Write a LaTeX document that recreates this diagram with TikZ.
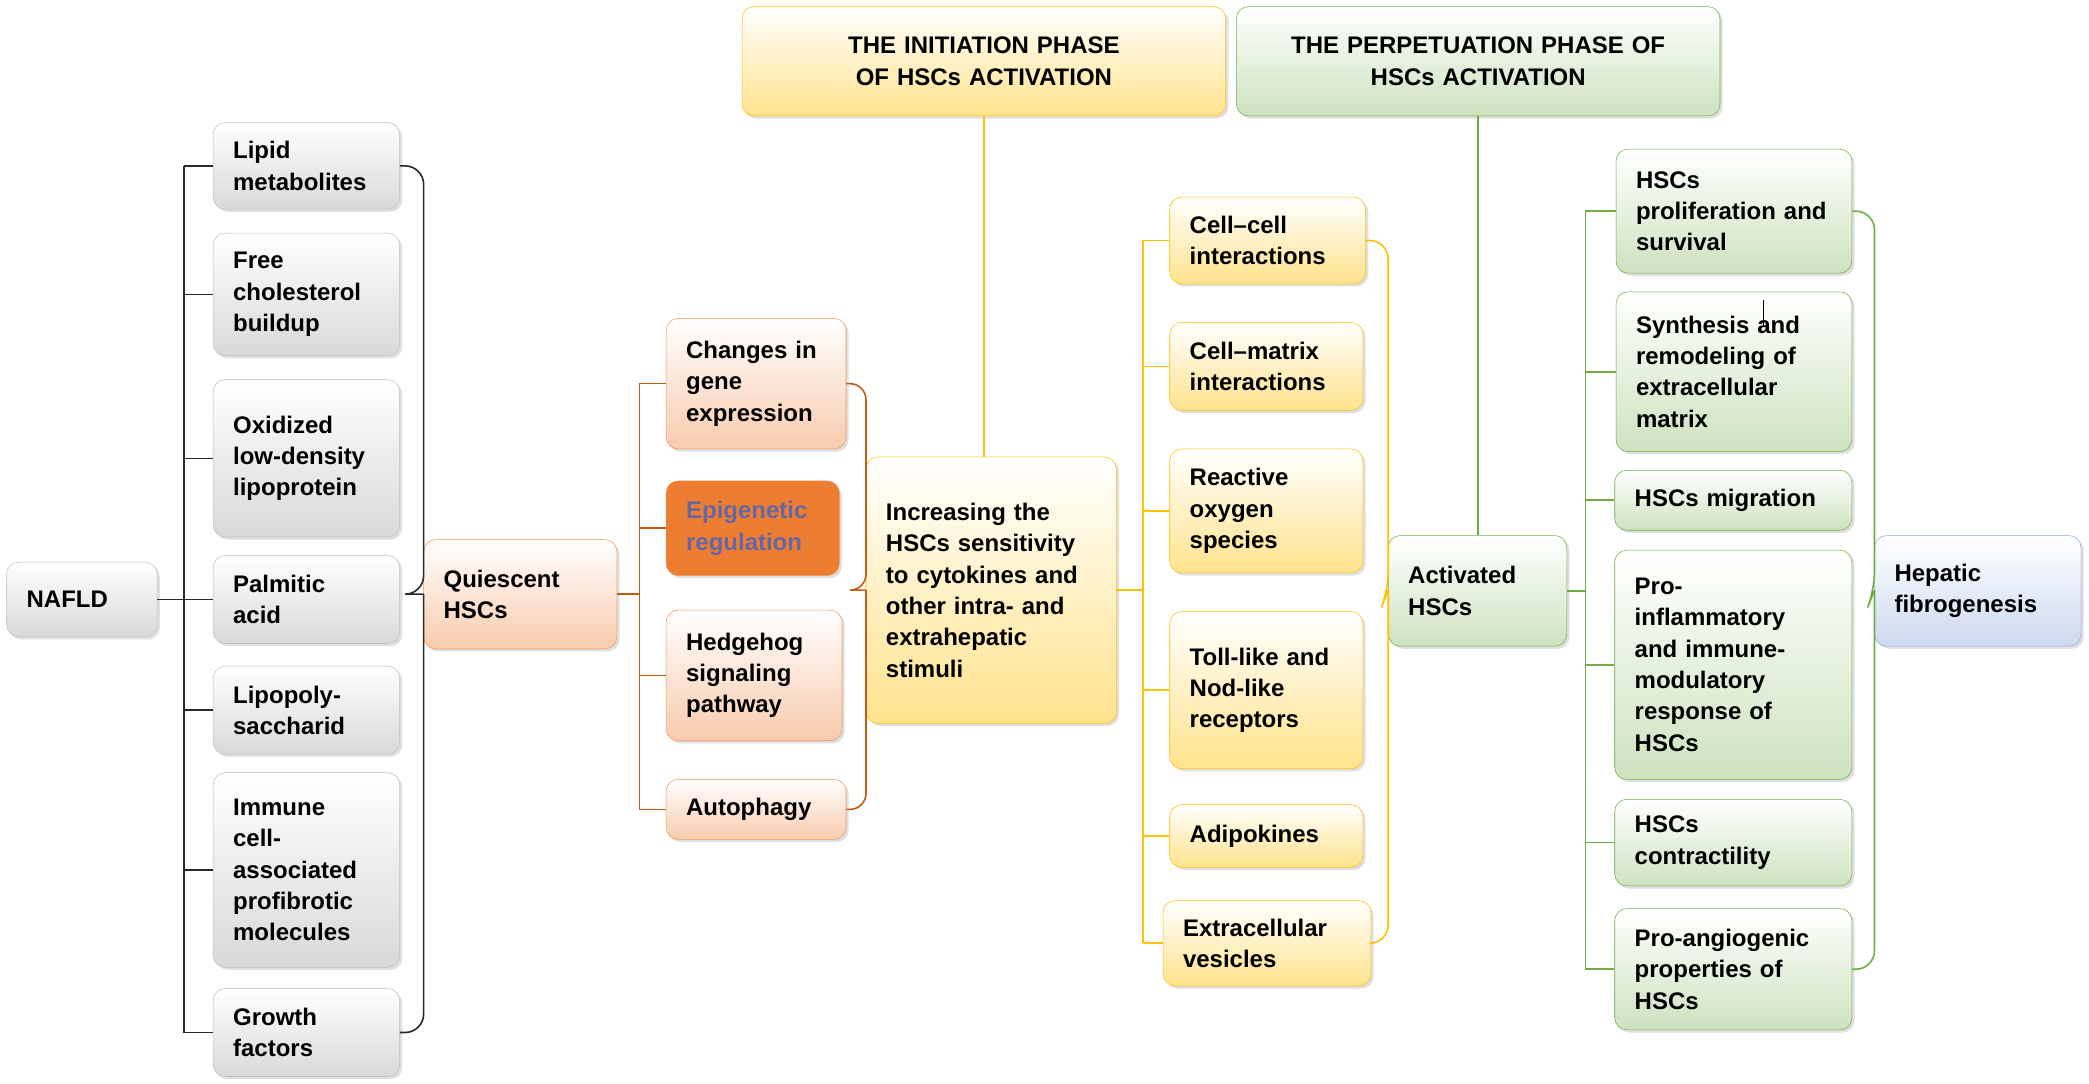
\documentclass[tikz,border=0pt]{standalone}
\usepackage{fontspec}
\setmainfont{Liberation Sans}
\usetikzlibrary{shadows,calc}
\definecolor{gline}{RGB}{40,40,40}
\definecolor{oline}{RGB}{197,90,17}
\definecolor{yline}{RGB}{255,192,0}
\definecolor{grline}{RGB}{112,173,71}
\definecolor{bline}{RGB}{143,170,220}
\definecolor{epi}{RGB}{237,125,49}
\tikzset{
  box/.style={rounded corners=9pt, inner xsep=15pt, inner ysep=2pt, align=left,
    font=\fontsize{18}{23.5}\selectfont\bfseries, drop shadow={opacity=0.25,shadow xshift=2pt,shadow yshift=-2pt}},
  graybox/.style={box, draw=gray!50, top color=white, bottom color=gray!30},
  orbox/.style={box, draw=epi!80, top color=white, bottom color=epi!40},
  epibox/.style={box, draw=epi!80, fill=epi, text=black!60!blue!60},
  yelbox/.style={box, draw=yline, top color=white, bottom color=yline!45},
  grbox/.style={box, draw=grline, top color=white, bottom color=grline!35},
  bluebox/.style={box, draw=bline, top color=white, bottom color=bline!45},
  titlebox/.style={align=center},
  link/.style={line width=1.2pt},
}
% boite : style, nom, x1, y1, x2, y2, texte
\newcommand{\bx}[7]{%
  \pgfmathsetmacro\bw{#5-#3}\pgfmathsetmacro\bh{#6-#4}\pgfmathsetmacro\tw{#5-#3-30}%
  \node[#1,minimum width=\bw pt,minimum height=\bh pt,text width=\tw pt] (#2) at ({(#3+#5)/2},{(#4+#6)/2}) {#7};}
\begin{document}
\begin{tikzpicture}[x=1pt,y=-1pt]
  \useasboundingbox[fill=white] (0,0) rectangle (1568,813);
  % Phases
  \bx{yelbox,titlebox}{init}{557}{5}{920}{87}{THE INITIATION PHASE\\OF HSCs ACTIVATION}
  \bx{grbox,titlebox}{perp}{928}{5}{1291}{87}{THE PERPETUATION PHASE OF\\HSCs ACTIVATION}
  % Colonne gauche
  \bx{graybox}{nafld}{5}{422}{118}{478}{NAFLD}
  \bx{graybox}{lipid}{160}{92}{300}{157}{Lipid\\metabolites}
  \bx{graybox}{chol}{160}{175}{300}{267}{Free\\cholesterol\\buildup}
  \bx{graybox}{ldl}{160}{285}{300}{403}{Oxidized\\low-density\\lipoprotein}
  \bx{graybox}{palm}{160}{417}{300}{483}{Palmitic acid}
  \bx{graybox}{lps}{160}{500}{300}{566}{Lipopoly-\\saccharid}
  \bx{graybox}{immune}{160}{580}{300}{726}{Immune\\cell-\\associated\\profibrotic\\molecules}
  \bx{graybox}{growth}{160}{742}{300}{808}{Growth\\factors}
  % Quiescentes
  \bx{orbox}{quiet}{318}{405}{463}{487}{Quiescent\\HSCs}
  \bx{orbox}{gene}{500}{239}{635}{337}{Changes in\\gene\\expression}
  \bx{epibox}{epig}{500}{361}{630}{432}{Epigenetic\\regulation}
  \bx{orbox}{hedge}{500}{458}{632}{556}{Hedgehog\\signaling\\pathway}
  \bx{orbox}{auto}{500}{585}{635}{630}{Autophagy}
  % Initiation
  \bx{yelbox}{incr}{650}{343}{838}{543}{Increasing the\\HSCs sensitivity\\to cytokines and\\other intra- and\\extrahepatic\\stimuli}
  \bx{yelbox}{cc}{878}{148}{1025}{213}{Cell–cell\\interactions}
  \bx{yelbox}{cm}{878}{242}{1023}{308}{Cell–matrix\\interactions}
  \bx{yelbox}{ros}{878}{337}{1023}{430}{Reactive\\oxygen\\species}
  \bx{yelbox}{toll}{878}{459}{1023}{577}{Toll-like and\\Nod-like\\receptors}
  \bx{yelbox}{adipo}{878}{604}{1023}{651}{Adipokines}
  \bx{yelbox}{vesic}{873}{676}{1029}{740}{Extracellular\\vesicles}
  % Perpetuation
  \bx{grbox}{activ}{1042}{402}{1176}{485}{Activated\\HSCs}
  \bx{grbox}{prolif}{1213}{112}{1390}{205}{HSCs\\proliferation and\\survival}
  \bx{grbox}{synth}{1213}{219}{1390}{339}{Synthesis and\\remodeling of\\extracellular\\matrix}
  \bx{grbox}{migr}{1212}{353}{1390}{398}{HSCs migration}
  \bx{grbox}{inflam}{1212}{413}{1390}{585}{Pro-\\inflammatory\\and immune-\\modulatory\\response of\\HSCs}
  \bx{grbox}{contr}{1212}{600}{1390}{665}{HSCs\\contractility}
  \bx{grbox}{angio}{1212}{682}{1390}{773}{Pro-angiogenic\\properties of\\HSCs}
  \bx{bluebox}{hepat}{1407}{402}{1562}{485}{Hepatic\\fibrogenesis}
  \draw[black,line width=0.8pt] (1324,225) -- (1324,245);

  % Liaisons gauche
  \coordinate (busA) at (138,0);
  \draw[link,gline] (nafld.east) -- (nafld.east -| busA);
  \draw[link,gline] (lipid.west -| busA) -- (growth.west -| busA);
  \foreach \n in {lipid,chol,ldl,palm,lps,immune,growth}
    \draw[link,gline] (\n.west -| busA) -- (\n.west);
  \draw[link,gline,rounded corners=14pt] (lipid.east) -| (318,446) -- (quiet.west);
  \draw[link,gline,rounded corners=14pt] (growth.east) -| (318,446);

  % Liaisons quiescentes
  \coordinate (busB) at (480,0);
  \draw[link,oline] (quiet.east) -- (quiet.east -| busB);
  \draw[link,oline] (gene.west -| busB) -- (auto.west -| busB);
  \foreach \n in {gene,epig,hedge,auto}
    \draw[link,oline] (\n.west -| busB) -- (\n.west);
  \draw[link,oline,rounded corners=12pt] (gene.east) -| (650,443) -- (incr.west);
  \draw[link,oline,rounded corners=12pt] (auto.east) -| (650,443);

  % Liaisons initiation
  \draw[link,yline] (init.south) -- (init.south |- incr.north);
  \coordinate (busC) at (858,0);
  \draw[link,yline] (incr.east) -- (incr.east -| busC);
  \draw[link,yline] (cc.west -| busC) -- (vesic.west -| busC);
  \foreach \n in {cc,cm,ros,toll,adipo,vesic}
    \draw[link,yline] (\n.west -| busC) -- (\n.west);
  \draw[link,yline,rounded corners=14pt] (cc.east) -| (1042,443) -- (activ.west);
  \draw[link,yline,rounded corners=14pt] (vesic.east) -| (1042,443);

  % Liaisons perpetuation
  \draw[link,grline] (perp.south) -- (perp.south |- activ.north);
  \coordinate (busD) at (1190,0);
  \draw[link,grline] (activ.east) -- (activ.east -| busD);
  \draw[link,grline] (prolif.west -| busD) -- (angio.west -| busD);
  \foreach \n in {prolif,synth,migr,inflam,contr,angio}
    \draw[link,grline] (\n.west -| busD) -- (\n.west);
  \draw[link,grline,rounded corners=14pt] (prolif.east) -| (1407,443) -- (hepat.west);
  \draw[link,grline,rounded corners=14pt] (angio.east) -| (1407,443);
\end{tikzpicture}
\end{document}
